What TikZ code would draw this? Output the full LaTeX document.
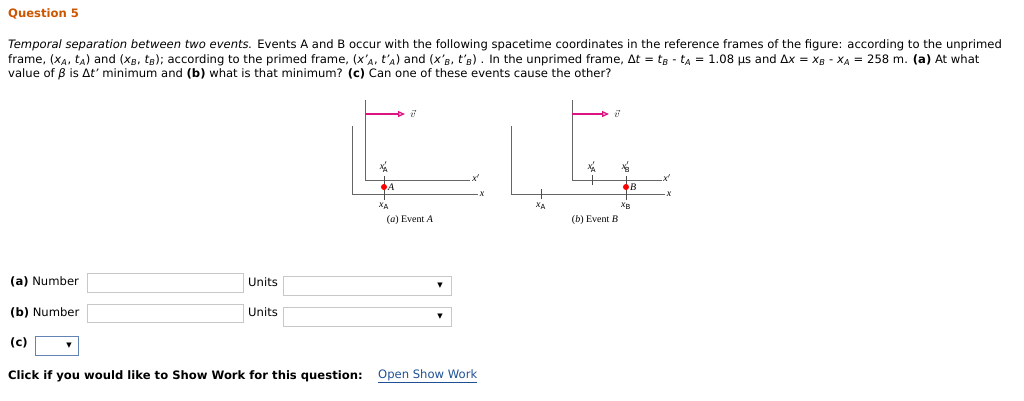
\documentclass[tikz,border=0pt]{standalone}
\usepackage{fontspec}
\setmainfont{DejaVu Sans}
\newfontfamily\serif{Liberation Serif}
\usetikzlibrary{arrows.meta}
\definecolor{qorange}{RGB}{204,85,0}
\definecolor{pinkv}{RGB}{220,20,130}
\definecolor{linkb}{RGB}{30,80,150}
\definecolor{boxg}{RGB}{200,200,200}
\newcommand{\sub}[1]{\textsubscript{#1}}
\begin{document}
\begin{tikzpicture}[x=1pt,y=-1pt,
  txt/.style={anchor=west,inner sep=0pt,font=\fontsize{11.6}{13}\selectfont},
  ax/.style={draw=black!60,line width=1pt},
  lab/.style={inner sep=0pt,font=\serif\fontsize{10}{11}\selectfont\itshape},
  captxt/.style={inner sep=0pt,font=\serif\fontsize{10}{11}\selectfont},
  vel/.style={draw=pinkv,line width=1.3pt,-{Triangle[open,length=7pt,width=6pt]}},
  dot/.style={circle,fill=red,inner sep=0pt,minimum size=6pt},
  inbox/.style={draw=boxg,line width=0.6pt,fill=white},
  arr/.style={inner sep=0pt,font=\fontsize{7}{8}\selectfont}]
\path[use as bounding box] (0,0) rectangle (1024,400);
\node[txt,font=\bfseries\fontsize{11.6}{13}\selectfont,text=qorange] (q) at (8,14) {Question 5};
\node[txt] (l1) at (8,45) {\textit{Temporal separation between two events.} Events A and B occur with the following spacetime coordinates in the reference frames of the figure: according to the unprimed};
\node[txt] (l2) at (8,60) {frame, (\textit{x}\sub{\textit{A}}, \textit{t}\sub{\textit{A}}) and (\textit{x}\sub{\textit{B}}, \textit{t}\sub{\textit{B}}); according to the primed frame, (\textit{x'}\sub{\textit{A}}, \textit{t'}\sub{\textit{A}}) and (\textit{x'}\sub{\textit{B}}, \textit{t'}\sub{\textit{B}}) . In the unprimed frame, Δ\textit{t} = \textit{t}\sub{\textit{B}} - \textit{t}\sub{\textit{A}} = 1.08 μs and Δ\textit{x} = \textit{x}\sub{\textit{B}} - \textit{x}\sub{\textit{A}} = 258 m. \textbf{(a)} At what};
\node[txt] (l3) at (8,74) {value of \textit{β} is Δ\textit{t'} minimum and \textbf{(b)} what is that minimum? \textbf{(c)} Can one of these events cause the other?};
% diagram a
\coordinate (a0) at (352,126); \coordinate (a1) at (352,194); \coordinate (a2) at (478,194);
\draw[ax] (a0) -- (a1) -- (a2);
\node[lab] (ax) at (482,194) {x};
\coordinate (p0) at (365,100); \coordinate (p1) at (365,180); \coordinate (p2) at (470,180);
\draw[ax] (p0) -- (p1) -- (p2);
\node[lab] (apx) at (476,178) {x$'$};
\coordinate (va) at (365,114); \coordinate (vb) at (405,114);
\draw[vel] (va) -- (vb);
\node[lab] (av) at (413,114) {$\vec{v}$};
\coordinate (ta) at (384,176); \coordinate (tb) at (384,200);
\draw[black!70,line width=0.8pt] (ta) -- (tb);
\node[dot] (A) at (384,187) {};
\node[lab,anchor=west] (Al) at (388,187) {A};
\node[lab] (axA) at (384,167) {x$'_{\!\mathrm{A}}$};
\node[lab] (axa) at (384,206) {x$_{\mathrm{A}}$};
\node[captxt] (capa) at (410,220) {(\textit{a}) Event \textit{A}};
% diagram b
\coordinate (b0) at (511,126); \coordinate (b1) at (511,194); \coordinate (b2) at (665,194);
\draw[ax] (b0) -- (b1) -- (b2);
\node[lab] (bx) at (669,194) {x};
\coordinate (q0) at (572,100); \coordinate (q1) at (572,180); \coordinate (q2) at (662,180);
\draw[ax] (q0) -- (q1) -- (q2);
\node[lab] (bpx) at (667,178) {x$'$};
\coordinate (vc) at (572,114); \coordinate (vd) at (609,114);
\draw[vel] (vc) -- (vd);
\node[lab] (bv) at (617,114) {$\vec{v}$};
\coordinate (t1) at (541,189); \coordinate (t2) at (541,199);
\draw[black!70,line width=0.8pt] (t1) -- (t2);
\node[lab] (bxa) at (541,206) {x$_{\mathrm{A}}$};
\coordinate (t3) at (592,175); \coordinate (t4) at (592,185);
\draw[black!70,line width=0.8pt] (t3) -- (t4);
\node[lab] (bxA) at (592,167) {x$'_{\!\mathrm{A}}$};
\coordinate (t5) at (626,176); \coordinate (t6) at (626,200);
\draw[black!70,line width=0.8pt] (t5) -- (t6);
\node[dot] (B) at (626,187) {};
\node[lab,anchor=west] (Bl) at (630,187) {B};
\node[lab] (bxB) at (626,167) {x$'_{\!\mathrm{B}}$};
\node[lab] (bxb) at (626,206) {x$_{\mathrm{B}}$};
\node[captxt] (capb) at (595,220) {(\textit{b}) Event \textit{B}};
% form
\node[txt] (na) at (10,282) {\textbf{(a)} Number};
\draw[inbox] (87,273) rectangle (243,292);
\node[txt] (ua) at (248,282) {Units};
\draw[inbox] (283,276) rectangle (451,295);
\node[arr] (da) at (440,286) {▼};
\node[txt] (nb) at (10,313) {\textbf{(b)} Number};
\draw[inbox] (87,304) rectangle (243,322);
\node[txt] (ub) at (248,312) {Units};
\draw[inbox] (283,307) rectangle (451,326);
\node[arr] (db) at (440,317) {▼};
\node[txt] (nc) at (10,343) {\textbf{(c)}};
\draw[draw=linkb!70,line width=0.8pt,fill=white] (35,336) rectangle (78,355);
\node[arr] (dc) at (69,346) {▼};
\node[txt,font=\bfseries\fontsize{11.6}{13}\selectfont] (cl) at (8,376) {Click if you would like to Show Work for this question:};
\node[txt,text=linkb] (ow) at (378,376) {\underline{Open Show Work}};
\end{tikzpicture}
\end{document}
